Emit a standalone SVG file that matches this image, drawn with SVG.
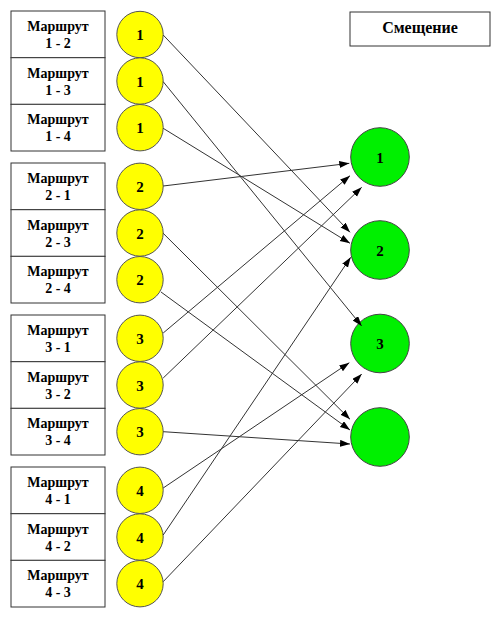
<svg xmlns="http://www.w3.org/2000/svg" width="504" height="620" viewBox="0 0 504 620">
<style>
.box{fill:#fff;stroke:#333;stroke-width:1}
.yc{fill:#ffff00;stroke:#555;stroke-width:1}
.gc{fill:#00f000;stroke:#444;stroke-width:1}
.t{font-family:'Liberation Serif','DejaVu Serif','Times New Roman',serif;font-weight:bold;font-size:14px;fill:#000;text-anchor:middle}
.n{font-family:'Liberation Serif','DejaVu Serif','Times New Roman',serif;font-weight:bold;font-size:15px;fill:#000;text-anchor:middle}
.c{fill:none;stroke:#333;stroke-width:1;marker-end:url(#ah)}
</style>
<defs>
<marker id="ah" markerUnits="userSpaceOnUse" markerWidth="11" markerHeight="8" refX="10" refY="3.5" orient="auto">
<path d="M0,0 L10,3.5 L0,7 z" fill="#000"/>
</marker>
</defs>
<rect width="504" height="620" fill="#fff"/>

<g id="r12"><rect class="box" x="11" y="11" width="94" height="46.7"/><text class="t" x="58" y="31">Маршрут</text><text class="t" x="58" y="48">1 - 2</text></g>
<g id="r13"><rect class="box" x="11" y="57.7" width="94" height="46.7"/><text class="t" x="58" y="77.7">Маршрут</text><text class="t" x="58" y="94.7">1 - 3</text></g>
<g id="r14"><rect class="box" x="11" y="104.3" width="94" height="46.7"/><text class="t" x="58" y="124.3">Маршрут</text><text class="t" x="58" y="141.3">1 - 4</text></g>

<g id="r21"><rect class="box" x="11" y="163" width="94" height="46.7"/><text class="t" x="58" y="183">Маршрут</text><text class="t" x="58" y="200">2 - 1</text></g>
<g id="r23"><rect class="box" x="11" y="209.7" width="94" height="46.7"/><text class="t" x="58" y="229.7">Маршрут</text><text class="t" x="58" y="246.7">2 - 3</text></g>
<g id="r24"><rect class="box" x="11" y="256.3" width="94" height="46.7"/><text class="t" x="58" y="276.3">Маршрут</text><text class="t" x="58" y="293.3">2 - 4</text></g>

<g id="r31"><rect class="box" x="11" y="315" width="94" height="46.7"/><text class="t" x="58" y="335">Маршрут</text><text class="t" x="58" y="352">3 - 1</text></g>
<g id="r32"><rect class="box" x="11" y="361.7" width="94" height="46.7"/><text class="t" x="58" y="381.7">Маршрут</text><text class="t" x="58" y="398.7">3 - 2</text></g>
<g id="r34"><rect class="box" x="11" y="408.3" width="94" height="46.7"/><text class="t" x="58" y="428.3">Маршрут</text><text class="t" x="58" y="445.3">3 - 4</text></g>

<g id="r41"><rect class="box" x="11" y="467" width="94" height="46.7"/><text class="t" x="58" y="487">Маршрут</text><text class="t" x="58" y="504">4 - 1</text></g>
<g id="r42"><rect class="box" x="11" y="513.7" width="94" height="46.7"/><text class="t" x="58" y="533.7">Маршрут</text><text class="t" x="58" y="550.7">4 - 2</text></g>
<g id="r43"><rect class="box" x="11" y="560.3" width="94" height="46.7"/><text class="t" x="58" y="580.3">Маршрут</text><text class="t" x="58" y="597.3">4 - 3</text></g>

<g id="y12"><circle class="yc" cx="140" cy="34.5" r="23.2"/><text class="n" x="140" y="40">1</text></g>
<g id="y13"><circle class="yc" cx="140" cy="81" r="23.2"/><text class="n" x="140" y="86.5">1</text></g>
<g id="y14"><circle class="yc" cx="140" cy="127.7" r="23.2"/><text class="n" x="140" y="133.2">1</text></g>
<g id="y21"><circle class="yc" cx="140" cy="186.3" r="23.2"/><text class="n" x="140" y="191.8">2</text></g>
<g id="y23"><circle class="yc" cx="140" cy="233" r="23.2"/><text class="n" x="140" y="238.5">2</text></g>
<g id="y24"><circle class="yc" cx="140" cy="279.7" r="23.2"/><text class="n" x="140" y="285.2">2</text></g>
<g id="y31"><circle class="yc" cx="140" cy="338.3" r="23.2"/><text class="n" x="140" y="343.8">3</text></g>
<g id="y32"><circle class="yc" cx="140" cy="385" r="23.2"/><text class="n" x="140" y="390.5">3</text></g>
<g id="y34"><circle class="yc" cx="140" cy="431.7" r="23.2"/><text class="n" x="140" y="437.2">3</text></g>
<g id="y41"><circle class="yc" cx="140" cy="490.3" r="23.2"/><text class="n" x="140" y="495.8">4</text></g>
<g id="y42"><circle class="yc" cx="140" cy="537" r="23.2"/><text class="n" x="140" y="542.5">4</text></g>
<g id="y43"><circle class="yc" cx="140" cy="583.7" r="23.2"/><text class="n" x="140" y="589.2">4</text></g>

<g id="g1"><circle class="gc" cx="380" cy="157" r="29.3"/><text class="n" x="380" y="162.5">1</text></g>
<g id="g2"><circle class="gc" cx="380" cy="250" r="29.3"/><text class="n" x="380" y="255.5">2</text></g>
<g id="g3"><circle class="gc" cx="380" cy="343.5" r="29.3"/><text class="n" x="380" y="349">3</text></g>
<g id="g4"><circle class="gc" cx="380" cy="437" r="29.3"/></g>

<g id="shift"><rect class="box" x="350" y="12" width="140" height="34"/><text class="n" x="420" y="33" style="font-size:16px">Смещение</text></g>

<g id="connectors">
<line class="c" x1="163.2" y1="35" x2="350" y2="232.3"/>
<line class="c" x1="163.2" y1="81.7" x2="361.7" y2="326"/>
<line class="c" x1="163.2" y1="128.3" x2="350" y2="243.3"/>
<line class="c" x1="163.2" y1="186" x2="349.3" y2="163.3"/>
<line class="c" x1="163.2" y1="233.3" x2="350" y2="419.3"/>
<line class="c" x1="161" y1="292" x2="350" y2="430"/>
<line class="c" x1="163.2" y1="333" x2="350" y2="175.7"/>
<line class="c" x1="163.2" y1="378" x2="361.7" y2="187.3"/>
<line class="c" x1="163.2" y1="431.7" x2="350" y2="444"/>
<line class="c" x1="163.2" y1="488" x2="349.3" y2="362.7"/>
<line class="c" x1="163.2" y1="535" x2="350.7" y2="257.3"/>
<line class="c" x1="163.2" y1="581.7" x2="361.7" y2="374"/>
</g>
</svg>
